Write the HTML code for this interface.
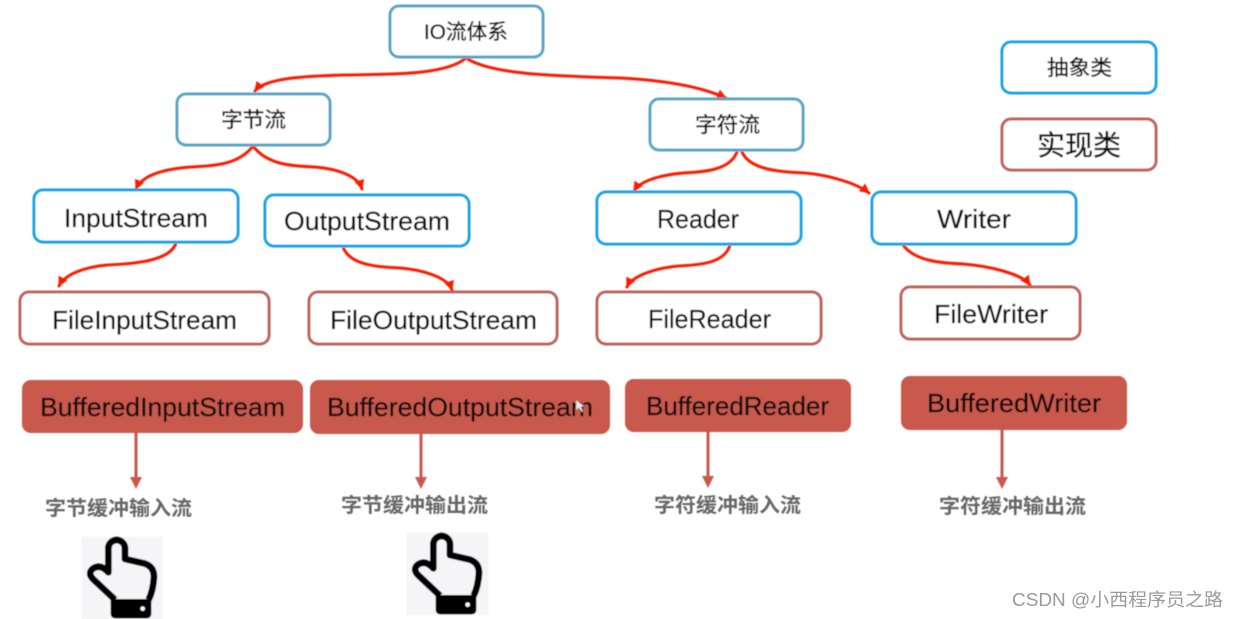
<!DOCTYPE html>
<html lang="zh">
<head>
<meta charset="utf-8">
<title>IO流体系</title>
<style>
html,body{margin:0;padding:0;background:#fff;width:1238px;height:619px;overflow:hidden}
svg{display:block}
.t{font-family:"Liberation Sans","Noto Sans CJK SC",sans-serif;fill:#0c0c0c;stroke:#0c0c0c;stroke-width:.25}
.c{font-family:"Liberation Sans","Noto Sans CJK SC",sans-serif;fill:#111;stroke:#111;stroke-width:.35}
.g{font-family:"Noto Sans CJK SC","Liberation Sans",sans-serif;fill:#666;font-weight:700}
.b1{fill:#fff;stroke:#56a5c8;stroke-width:3}
.b2{fill:#fff;stroke:#0ea5e9;stroke-width:3}
.b3{fill:#fff;stroke:#c0605a;stroke-width:3}
.b4{fill:#c9594e;stroke:none}
.r{fill:none;stroke:#fb1d06;stroke-width:3;stroke-linecap:round}
.s{stroke:#c9594e;stroke-width:3;fill:none}
</style>
</head>
<body>
<svg width="1238" height="619" viewBox="0 0 1238 619" xmlns="http://www.w3.org/2000/svg">
<defs>
<marker id="ah" markerUnits="userSpaceOnUse" markerWidth="12" markerHeight="12" refX="9" refY="5" orient="auto"><path d="M0 0L10 5L0 10Z" fill="#fb1d06"/></marker>
<g id="hand">
<rect x="35" y="35" width="245" height="247" fill="#f5f5f7"/>
<path d="M135 224L72 165Q50 145 70 130Q92 116 115 142V70A25 25 0 0 1 165 70V102L225 116Q252 126 252 155Q250 195 236 224" fill="#f5f5f7" stroke="#000" stroke-width="20" stroke-linejoin="round"/>
<path d="M122 222H244V266Q244 280 230 280H136Q122 280 122 266Z" fill="#000"/>
<circle cx="218" cy="251" r="7" fill="#f5f5f7"/>
</g>
<filter id="bl" x="-2%" y="-2%" width="104%" height="104%"><feGaussianBlur stdDeviation="0.45"/></filter>
</defs>
<g filter="url(#bl)">

<!-- red curved connectors -->
<path class="r" marker-end="url(#ah)" d="M466 58C445 76 385 74 345 75C305 76 265 78 255 91"/>
<path class="r" marker-end="url(#ah)" d="M466 58C490 74 550 76 620 78C660 80 700 86 726 98"/>
<path class="r" marker-end="url(#ah)" d="M253 146C238 166 210 166 190 167C165 169 142 175 136 189"/>
<path class="r" marker-end="url(#ah)" d="M253 146C268 166 295 166 315 167C338 169 358 176 362 189"/>
<path class="r" marker-end="url(#ah)" d="M176 243C170 262 130 264 107 265C85 267 65 274 59 286"/>
<path class="r" marker-end="url(#ah)" d="M343 247C350 266 380 267 400 268C425 270 448 278 452 290"/>
<path class="r" marker-end="url(#ah)" d="M737 152C730 170 705 172 683 173C660 175 640 181 634 191"/>
<path class="r" marker-end="url(#ah)" d="M742 152C750 170 780 172 805 173C830 175 858 184 869 193"/>
<path class="r" marker-end="url(#ah)" d="M730 245C725 263 700 265 679 266C655 268 632 276 627 287"/>
<path class="r" marker-end="url(#ah)" d="M903 245C915 261 940 263 963 264C990 266 1022 274 1030 285"/>

<!-- straight arrows -->
<path class="s" d="M136 433V478M421 434V478M708 432V477M1002 430V478"/>
<path fill="#c9594e" d="M130 477H142L136 489ZM415 477H427L421 489ZM702 476H714L708 488ZM996 477H1008L1002 489Z"/>

<!-- blue-grey boxes -->
<rect class="b1" x="390" y="6" width="153" height="51" rx="9"/>
<rect class="b1" x="177" y="94" width="153" height="51" rx="9"/>
<rect class="b1" x="650" y="99" width="153" height="51" rx="9"/>

<!-- abstract -->
<rect class="b2" x="34" y="190" width="204" height="52" rx="9"/>
<rect class="b2" x="265" y="195" width="204" height="51" rx="9"/>
<rect class="b2" x="597" y="192" width="204" height="52" rx="9"/>
<rect class="b2" x="872" y="192" width="204" height="52" rx="9"/>
<rect class="b2" x="1002" y="42" width="154" height="51" rx="9"/>

<!-- impl -->
<rect class="b3" x="20" y="292" width="249" height="52" rx="9"/>
<rect class="b3" x="309" y="292" width="248" height="52" rx="9"/>
<rect class="b3" x="597" y="292" width="224" height="52" rx="9"/>
<rect class="b3" x="901" y="287" width="179" height="52" rx="9"/>
<rect class="b3" x="1002" y="119" width="154" height="51" rx="9"/>

<!-- filled -->
<rect class="b4" x="22" y="380" width="281" height="53" rx="9"/>
<rect class="b4" x="310" y="380" width="300" height="54" rx="9"/>
<rect class="b4" x="625" y="379" width="226" height="53" rx="9"/>
<rect class="b4" x="901" y="376" width="226" height="54" rx="9"/>

<!-- labels -->
<text class="c" x="424" y="39" font-size="21" textLength="84" lengthAdjust="spacingAndGlyphs">IO流体系</text>
<text class="c" x="221" y="127" font-size="21" textLength="65" lengthAdjust="spacingAndGlyphs">字节流</text>
<text class="c" x="695" y="132" font-size="21" textLength="65" lengthAdjust="spacingAndGlyphs">字符流</text>
<text class="c" x="1047" y="75" font-size="21" textLength="65" lengthAdjust="spacingAndGlyphs">抽象类</text>
<text class="c" x="1037" y="155" font-size="28" textLength="84" lengthAdjust="spacingAndGlyphs">实现类</text>

<text class="t" x="64" y="227" font-size="26" textLength="144" lengthAdjust="spacingAndGlyphs">InputStream</text>
<text class="t" x="284" y="230" font-size="26" textLength="166" lengthAdjust="spacingAndGlyphs">OutputStream</text>
<text class="t" x="657" y="228" font-size="26" textLength="82" lengthAdjust="spacingAndGlyphs">Reader</text>
<text class="t" x="937" y="228" font-size="26" textLength="74" lengthAdjust="spacingAndGlyphs">Writer</text>

<text class="t" x="52" y="329" font-size="26" textLength="185" lengthAdjust="spacingAndGlyphs">FileInputStream</text>
<text class="t" x="330" y="329" font-size="26" textLength="207" lengthAdjust="spacingAndGlyphs">FileOutputStream</text>
<text class="t" x="648" y="328" font-size="26" textLength="123" lengthAdjust="spacingAndGlyphs">FileReader</text>
<text class="t" x="934" y="323" font-size="26" textLength="114" lengthAdjust="spacingAndGlyphs">FileWriter</text>

<text class="t" x="40" y="416" font-size="26" textLength="245" lengthAdjust="spacingAndGlyphs">BufferedInputStream</text>
<text class="t" x="327" y="416" font-size="26" textLength="266" lengthAdjust="spacingAndGlyphs">BufferedOutputStream</text>
<text class="t" x="646" y="415" font-size="26" textLength="183" lengthAdjust="spacingAndGlyphs">BufferedReader</text>
<text class="t" x="927" y="412" font-size="26" textLength="174" lengthAdjust="spacingAndGlyphs">BufferedWriter</text>

<text class="g" x="45" y="515" font-size="20" textLength="147" lengthAdjust="spacingAndGlyphs">字节缓冲输入流</text>
<text class="g" x="341" y="512" font-size="20" textLength="147" lengthAdjust="spacingAndGlyphs">字节缓冲输出流</text>
<text class="g" x="654" y="512" font-size="20" textLength="147" lengthAdjust="spacingAndGlyphs">字符缓冲输入流</text>
<text class="g" x="939" y="513" font-size="20" textLength="147" lengthAdjust="spacingAndGlyphs">字符缓冲输出流</text>

<!-- hands -->
<g transform="translate(70 525) scale(0.3333)"><use href="#hand"/></g>
<g transform="translate(395 521) scale(0.3333)"><use href="#hand"/></g>

<!-- cursor -->
<path d="M576 400L576 410L579 408L582 412L583 411L581 407L584 406Z" fill="#e8e8e8" stroke="#888" stroke-width="0.5"/>
</g>

<text x="1012" y="606" font-size="18" fill="#9a9a9a" font-family="Liberation Sans,Noto Sans CJK SC,sans-serif" textLength="211" lengthAdjust="spacingAndGlyphs">CSDN @小西程序员之路</text>
</svg>
</body>
</html>
